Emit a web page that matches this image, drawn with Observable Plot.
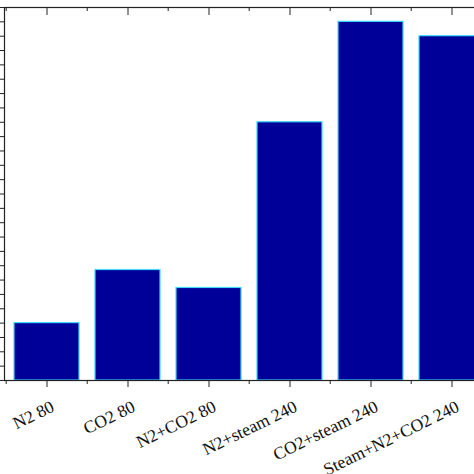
<!DOCTYPE html>
<html><head><meta charset="utf-8">
<script src="https://cdn.jsdelivr.net/npm/d3@7"></script>
<script src="https://cdn.jsdelivr.net/npm/@observablehq/plot@0.6"></script>
<style>
html,body{margin:0;padding:0;background:#fff;overflow:hidden;}
svg{overflow:hidden;}
</style>
</head><body>
<div id="chart"></div>
<script>
const categories = ["N2 80","CO2 80","N2+CO2 80","N2+steam 240","CO2+steam 240","Steam+N2+CO2 240"];
const values = [4.0, 7.7, 6.45, 18.0, 25.0, 24.0];
const yTicks = d3.range(0, 27, 1);

const data = categories.map((c, i) => ({cat: c, v: values[i]}));
const step = 81.6;
const pxPerUnit = 373 / 26;

const chart = Plot.plot({
  width: 474,
  height: 474,
  marginTop: 7,
  marginBottom: 94,
  marginLeft: 4,
  marginRight: -20,
  style: {fontFamily: "'Liberation Serif', 'Times New Roman', serif", background: "#fff"},
  x: {domain: categories, range: [4, 4 + step * 6], paddingInner: 0.2, paddingOuter: 0.1, label: null},
  y: {domain: [0, 26], range: [380, 7], label: null},
  marks: [
    Plot.barY(data, {x: "cat", y: "v", fill: "#000099", stroke: "#3fd8ff", strokeWidth: 1.2}),
    Plot.frame({stroke: "#222", strokeWidth: 1.2}),
    Plot.axisY({ticks: yTicks, tickSize: 4, tickFormat: () => "", stroke: "#222"}),
    Plot.axisX({anchor: "bottom", tickSize: 7, tickFormat: () => "", stroke: "#222", label: null}),
    Plot.axisX({anchor: "bottom", tickSize: 0, tickRotate: -26, fontSize: 17.5, tickPadding: 25, dx: 6, fill: "#111", label: null}),
    Plot.ruleX(categories, {x: d => d, y1: 26, y2: 26 - 8 / pxPerUnit, stroke: "#222"}),
    Plot.ruleX(categories, {x: d => d, y1: 0, y2: -4 / pxPerUnit, dx: -step / 2, stroke: "#222"}),
    Plot.ruleX(categories, {x: d => d, y1: 26, y2: 26 - 4 / pxPerUnit, dx: -step / 2, stroke: "#222"})
  ]
});
document.getElementById("chart").appendChild(chart);
</script>
</body></html>
